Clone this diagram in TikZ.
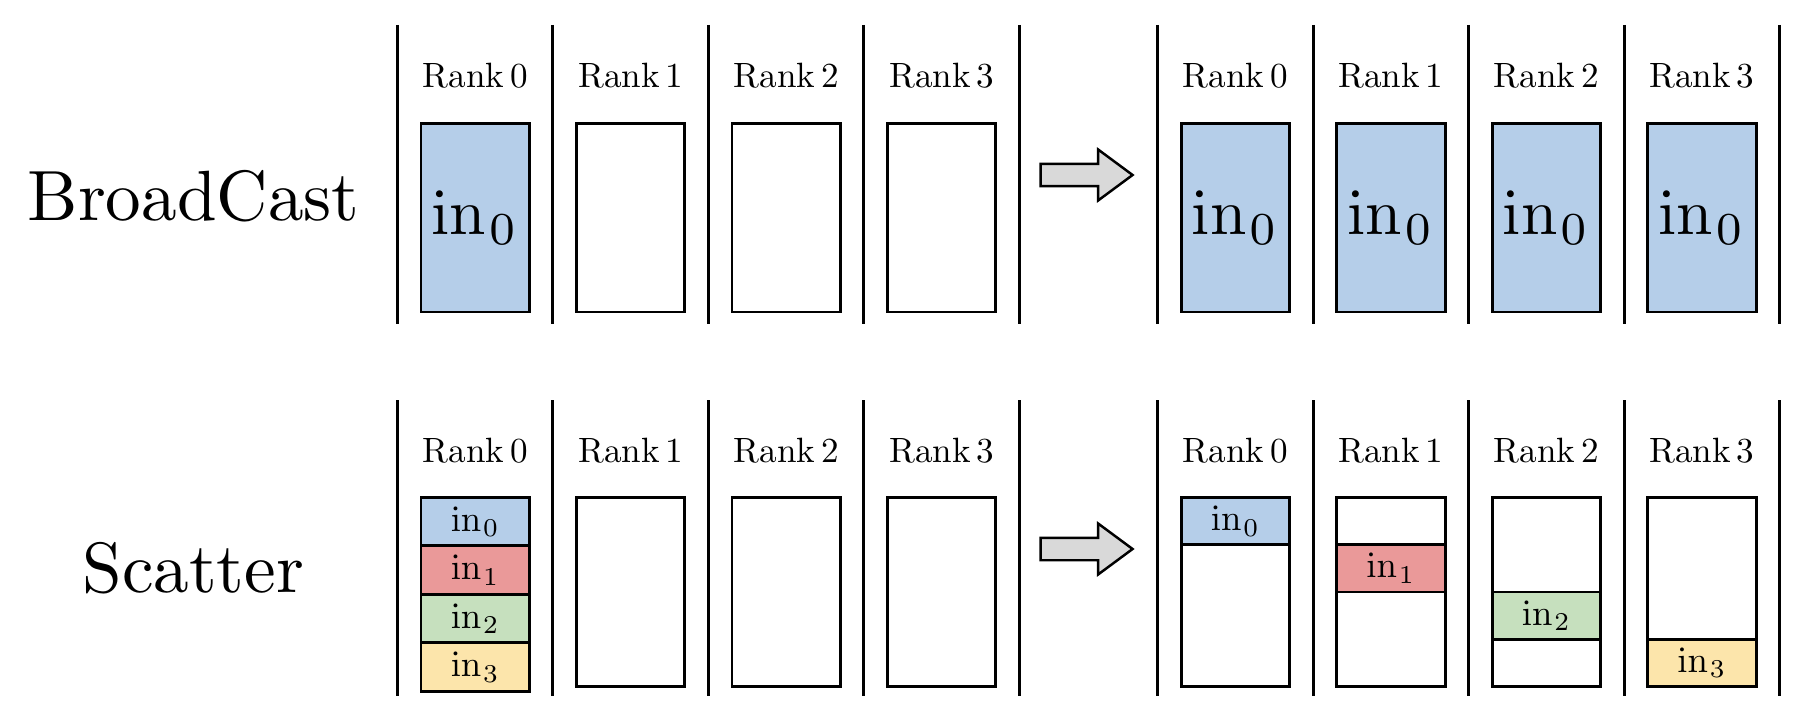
\documentclass[tikz,border=0pt]{standalone}
\usepackage{xcolor}
\usetikzlibrary{positioning,shapes.arrows}
\definecolor{inblue}{HTML}{B5CEE9}
\definecolor{inred}{HTML}{EA9999}
\definecolor{ingreen}{HTML}{C6E0BE}
\definecolor{inyellow}{HTML}{FCE5AB}
\definecolor{arrowgray}{HTML}{D9D9D9}
\newcommand{\inname}[2]{\scalebox{#1}{$\mathrm{in}_{\mkern1mu#2}$}}

\begin{document}
\begin{tikzpicture}[
    x=0.02cm, y=-0.02cm,
    sep/.style={line width=1.7pt},
    buf/.style={draw, line width=1.6pt, minimum width=2.17cm, minimum height=3.78cm, inner sep=0pt},
    part/.style={draw, line width=1.6pt, minimum width=2.17cm, minimum height=0.945cm, inner sep=0pt},
    rank/.style={font=\fontsize{10}{12}\selectfont, scale=2.0, transform shape},
    title/.style={anchor=base, font=\fontsize{10}{12}\selectfont, scale=4.05, transform shape},
    move/.style={single arrow, draw, fill=arrowgray, line width=1.4pt, inner xsep=0pt, inner ysep=0.2cm, minimum height=1.84cm, single arrow head extend=0.285cm, single arrow tip angle=73},
]
\useasboundingbox (0,0) rectangle (1806,723);

% row titles
\node[title] (bcast) at (193.5,220) {BroadCast};
\node[title] (scatter) at (193.3,592) {Scatter};

% rank separators
\foreach \x in {397.4,552.9,708.4,863.9,1019.4,1157.6,1313.1,1468.6,1624.1,1779.6} {
    \draw[sep] (\x,25) -- (\x,324);
    \draw[sep] (\x,400) -- (\x,696);
}

% before / after buffers
\foreach \i/\c in {0/inblue,1/inred,2/ingreen,3/inyellow} {
    \pgfmathsetmacro{\xl}{475.15+155.5*\i}
    \pgfmathsetmacro{\xr}{1235.35+155.5*\i}
    \node[rank] (bl\i) at (\xl,75.7) {Rank\,\i};
    \node[rank] (br\i) at (\xr,75.7) {Rank\,\i};
    \node[rank] (sl\i) at (\xl,451) {Rank\,\i};
    \node[rank] (sr\i) at (\xr,451) {Rank\,\i};
    \node[buf] (bbl\i) at (\xl,217.6) {};
    \node[buf, fill=inblue] (bbr\i) at (\xr,217.6) {\inname{3.72}{0}};
    \node[buf] (sbr\i) at (\xr,592) {};
    \node[part, fill=\c] (outpart\i) at (\xr,521.1+47.25*\i) {\inname{2.09}{\i}};
}
\node[buf, fill=inblue] (bbl0) at (475.15,217.6) {\inname{3.72}{0}};
\foreach \i in {1,2,3}
    \node[buf] (sbl\i) at (475.15+155.5*\i,592) {};
\foreach \i/\c in {0/inblue,1/inred,2/ingreen,3/inyellow}
    \node[part, fill=\c, minimum height=0.97cm] (inpart\i) at (475.15,521.55+48.5*\i) {\inname{2.09}{\i}};

% transfer arrows
\node[move] (bmove) at (1079,175) {};
\node[move] (smove) at (1079,549) {};
\end{tikzpicture}
\end{document}
